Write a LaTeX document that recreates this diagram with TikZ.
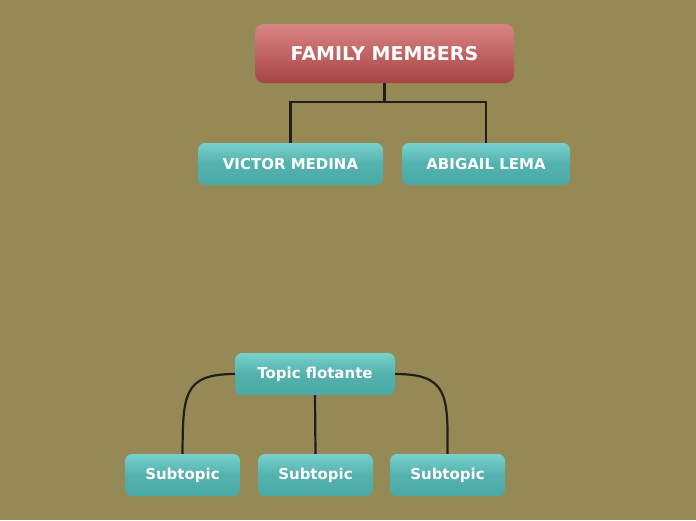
\documentclass[tikz,border=0pt]{standalone}
\usepackage{fontspec}
\setmainfont{DejaVu Sans}
\begin{document}
\begin{tikzpicture}[x=1pt,y=-1pt,
  box/.style={rounded corners=7pt,text=white,font=\bfseries\fontsize{15}{18}\selectfont,inner sep=0pt,
    top color=teal1,bottom color=teal2,middle color=teal2!80!teal1},
  rootbox/.style={rounded corners=9pt,text=white,font=\bfseries\fontsize{19}{22}\selectfont,inner sep=0pt,
    top color=red1,bottom color=red2},
  conn/.style={draw=lineblk,line width=2.5pt},
  curv/.style={draw=lineblk,line width=2.2pt}]
\definecolor{bg}{HTML}{958A55}
\definecolor{teal1}{HTML}{78D0CC}
\definecolor{teal2}{HTML}{4AAAA6}
\definecolor{red1}{HTML}{D88484}
\definecolor{red2}{HTML}{A84444}
\definecolor{lineblk}{HTML}{221F1A}
\fill[bg] (0,0) rectangle (696,520);
\useasboundingbox (0,0) rectangle (696,520);
\node[rootbox,minimum width=259pt,minimum height=59pt] (root) at (384.5,53.5) {FAMILY MEMBERS};
\node[box,minimum width=185pt,minimum height=42pt] (victor) at (290.5,164) {VICTOR MEDINA};
\node[box,minimum width=168pt,minimum height=42pt] (abigail) at (486,164) {ABIGAIL LEMA};
\node[box,minimum width=160pt,minimum height=42pt] (topic) at (315,374) {Topic flotante};
\node[box,minimum width=115pt,minimum height=42pt] (s1) at (182.5,475) {Subtopic};
\node[box,minimum width=115pt,minimum height=42pt] (s2) at (315.5,475) {Subtopic};
\node[box,minimum width=115pt,minimum height=42pt] (s3) at (447.5,475) {Subtopic};
\coordinate (j) at (384.5,102);
\draw[conn] (root.south) -- (j) -| (victor.north);
\draw[conn] (j) -| (abigail.north);
\draw[curv] (topic.west) .. controls (183,374) and (183,395) .. (s1.north);
\draw[curv] (topic.east) .. controls (448,374) and (448,395) .. (s3.north);
\draw[curv] (topic.south) -- (s2.north);
\end{tikzpicture}
\end{document}
